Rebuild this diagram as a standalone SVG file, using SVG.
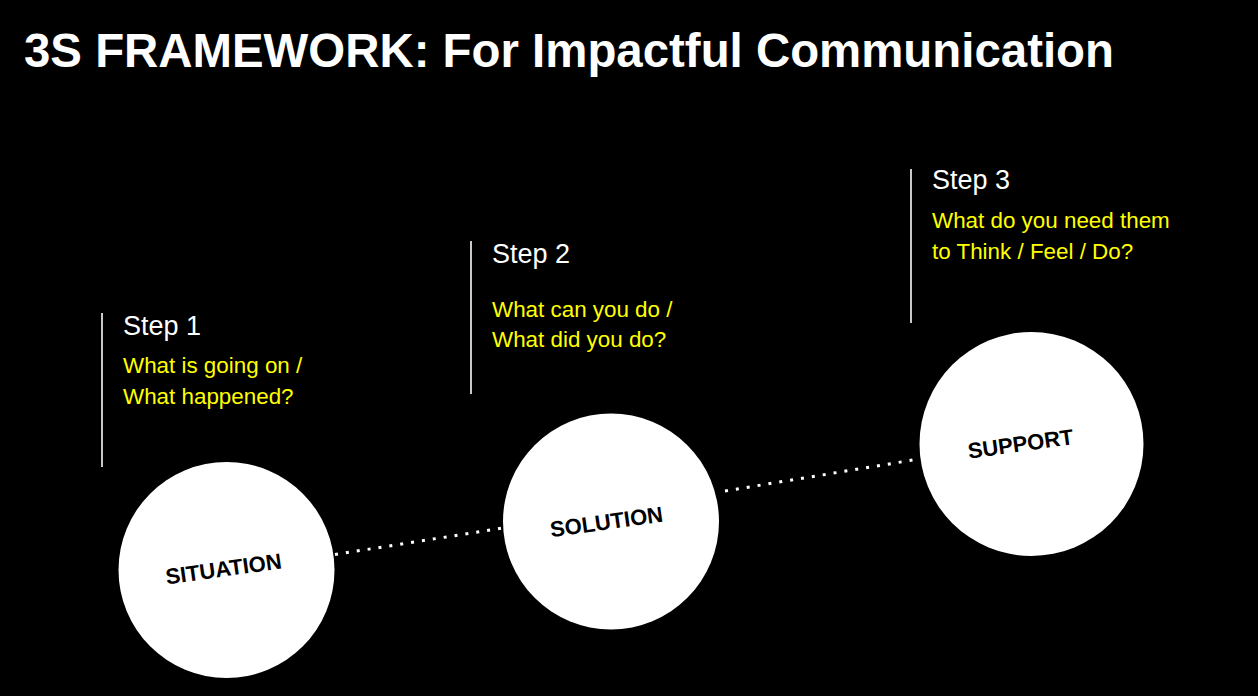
<svg xmlns="http://www.w3.org/2000/svg" width="1258" height="696" viewBox="0 0 1258 696">
<style>
.title{font-family:"Liberation Sans",Arial,sans-serif;font-weight:bold;font-size:47.4px;fill:#fff}
.step{font-family:"Liberation Sans",Arial,sans-serif;font-size:27px;fill:#fff}
.q{font-family:"Liberation Sans",Arial,sans-serif;font-size:22.4px;fill:#ffff00}
.lbl{font-family:"Liberation Sans",Arial,sans-serif;font-weight:bold;font-size:22px;fill:#000;text-anchor:middle;dominant-baseline:central}
.vline{stroke:#c8c8c8;stroke-width:2}
.circ{fill:#fff}
.dots{stroke:#fff;stroke-width:3;stroke-dasharray:3 8;fill:none}
</style>
<rect x="0" y="0" width="1258" height="696" fill="#000"/>
<text class="title" x="24" y="67">3S FRAMEWORK: For Impactful Communication</text>
<g id="connectors">
<line class="dots" x1="335" y1="554.5" x2="503" y2="528"/>
<line class="dots" x1="725" y1="491" x2="916" y2="459.5"/>
</g>
<g id="step1">
<line class="vline" x1="102" y1="313" x2="102" y2="467"/>
<text class="step" x="123" y="335">Step 1</text>
<text class="q" x="123" y="373">What is going on /</text>
<text class="q" x="123" y="404">What happened?</text>
</g>
<g id="step2">
<line class="vline" x1="471" y1="241" x2="471" y2="394"/>
<text class="step" x="492" y="263">Step 2</text>
<text class="q" x="492" y="317">What can you do /</text>
<text class="q" x="492" y="347">What did you do?</text>
</g>
<g id="step3">
<line class="vline" x1="911" y1="169" x2="911" y2="323"/>
<text class="step" x="932" y="189">Step 3</text>
<text class="q" x="932" y="228">What do you need them</text>
<text class="q" x="932" y="259">to Think / Feel / Do?</text>
</g>
<g id="situation">
<circle class="circ" cx="226.5" cy="570" r="108"/>
<text class="lbl" transform="translate(223.5 569) rotate(-8)">SITUATION</text>
</g>
<g id="solution">
<circle class="circ" cx="611" cy="521.5" r="108"/>
<text class="lbl" transform="translate(606.5 522) rotate(-8)">SOLUTION</text>
</g>
<g id="support">
<circle class="circ" cx="1031.5" cy="444" r="112"/>
<text class="lbl" transform="translate(1020.5 444) rotate(-8)">SUPPORT</text>
</g>
</svg>
